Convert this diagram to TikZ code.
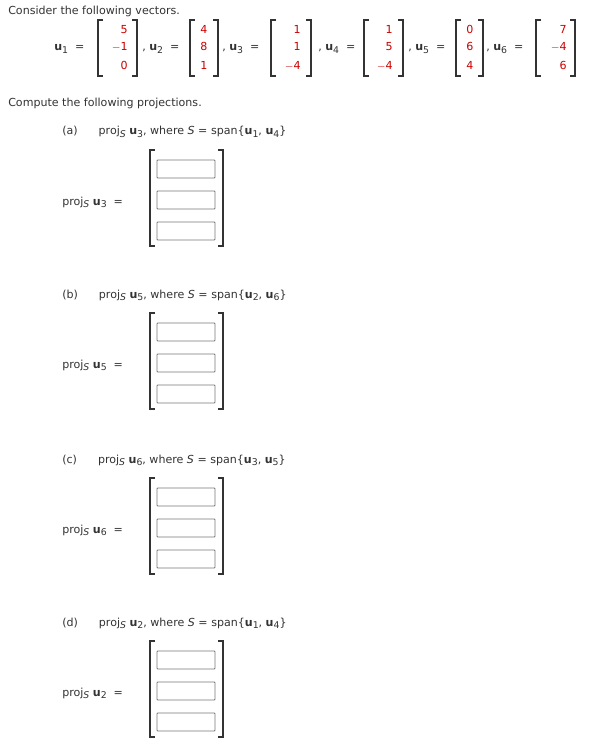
\documentclass[tikz,border=0pt]{standalone}
\usepackage{fontspec}
\setmainfont{DejaVu Sans}
\definecolor{txt}{HTML}{333333}
\definecolor{num}{HTML}{CC0000}
\definecolor{boxc}{HTML}{777777}
\newcommand\vu[1]{\textbf{u}\raisebox{-0.45ex}{\scriptsize #1}}
\newcommand\pS{proj\raisebox{-0.45ex}{\scriptsize\itshape S}}
\tikzset{
  t/.style={anchor=base west,inner sep=0pt,text=txt,font=\fontsize{8.3}{10}\selectfont},
  n/.style={anchor=base east,inner sep=0pt,text=num,font=\fontsize{8.3}{10}\selectfont},
  nc/.style={anchor=base,inner sep=0pt,text=num,font=\fontsize{8.3}{10}\selectfont},
  brk/.style={draw=txt,line width=0.85pt},
  ansbox/.style={draw=boxc,line width=0.6pt,rounded corners=0.6pt},
}
\newcommand\lbrk[3]{\draw[brk] (#1+5,#2)--(#1,#2)--(#1,#3)--(#1+5,#3);}
\newcommand\rbrk[3]{\draw[brk] (#1-5,#2)--(#1,#2)--(#1,#3)--(#1-5,#3);}
\begin{document}
\begin{tikzpicture}[x=0.75pt,y=-0.75pt]
\useasboundingbox[fill=white] (0,0) rectangle (611,756);
\node[t] (title) at (8,15) {Consider the following vectors.};
% vectors
\node[t] (l1) at (54,51) {\vu1 ~=};
\lbrk{98}{20}{76}\rbrk{137}{20}{76}
\node[n] (a1) at (128,34) {5};\node[n] (a2) at (128,51) {$-$1};\node[n] (a3) at (128,70) {0};
\node[t] (l2) at (142,51) {, \vu2 ~=};
\lbrk{190}{20}{76}\rbrk{218}{20}{76}
\node[nc] (b1) at (204,34) {4};\node[nc] (b2) at (204,51) {8};\node[nc] (b3) at (204,70) {1};
\node[t] (l3) at (222,51) {, \vu3 ~=};
\lbrk{271}{20}{76}\rbrk{311}{20}{76}
\node[n] (c1) at (301,34) {1};\node[n] (c2) at (301,51) {1};\node[n] (c3) at (301,70) {$-$4};
\node[t] (l4) at (318,51) {, \vu4 ~=};
\lbrk{364}{20}{76}\rbrk{403}{20}{76}
\node[n] (d1) at (393,34) {1};\node[n] (d2) at (393,51) {5};\node[n] (d3) at (393,70) {$-$4};
\node[t] (l5) at (408,51) {, \vu5 ~=};
\lbrk{456}{20}{76}\rbrk{483}{20}{76}
\node[nc] (e1) at (470,34) {0};\node[nc] (e2) at (470,51) {6};\node[nc] (e3) at (470,70) {4};
\node[t] (l6) at (486,51) {, \vu6 ~=};
\lbrk{536}{20}{76}\rbrk{575}{20}{76}
\node[n] (f1) at (567,34) {7};\node[n] (f2) at (567,51) {$-$4};\node[n] (f3) at (567,70) {6};
\node[t] (comp) at (8,107) {Compute the following projections.};
% parts
\foreach \p/\hy/\tgt/\sa/\sb/\nm in {a/135/3/1/4/pa, b/298/5/2/6/pb, c/463/6/3/5/pc, d/626/2/1/4/pd}{
  \pgfmathsetmacro\bt{\hy+15}
  \pgfmathsetmacro\bb{\hy+111}
  \node[t] (\nm h) at (62,\hy) {(\p)\hspace{1.9em}\pS\ \vu{\tgt}, where \textit{S} = span\{\vu{\sa}, \vu{\sb}\}};
  \node[t] (\nm l) at (62,\hy+70) {\pS\ \vu{\tgt} ~=};
  \draw[brk] (155,\bt)--(150,\bt)--(150,\bb)--(155,\bb);
  \draw[brk] (218,\bt)--(223,\bt)--(223,\bb)--(218,\bb);
  \foreach \k in {0,1,2}{
    \draw[ansbox] (157,\hy+25+31*\k) rectangle (215,\hy+43+31*\k);
  }
}
\end{tikzpicture}
\end{document}
